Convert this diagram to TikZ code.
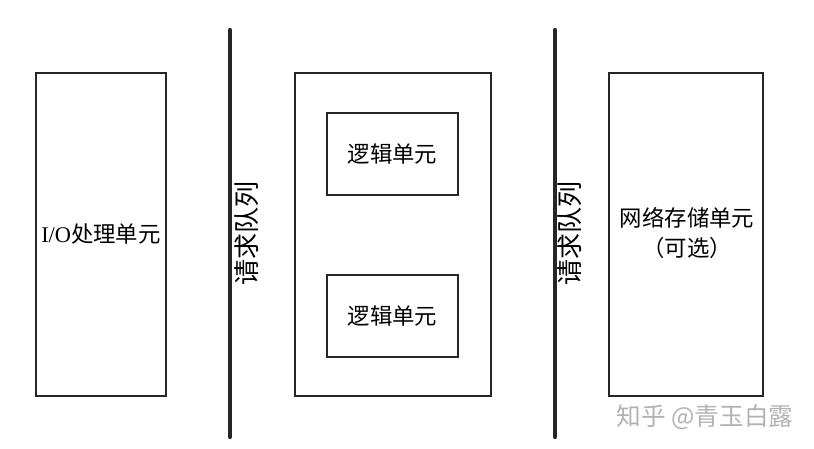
\documentclass[tikz,border=0pt]{standalone}
\usepackage{fontspec}
\setmainfont{Liberation Serif}
\newfontfamily\cjk{Noto Sans CJK SC}
\begin{document}
\begin{tikzpicture}[x=0.75pt,y=-0.75pt,
  unitbox/.style={draw=black!85, line width=1pt, inner sep=0pt, align=center},
  queueline/.style={line width=3.2pt, draw=black!85, line cap=round},
  qlabel/.style={rotate=90, font=\cjk\fontsize{19.5}{22}\selectfont, inner sep=0pt},
  boxtext/.style={font=\fontsize{16.8}{22}\selectfont}]
\useasboundingbox (0,0) rectangle (814,449);
% boxes
\node[unitbox, boxtext, minimum width=97.5pt, minimum height=242pt] (io) at (101,234.5) {I/O{\cjk 处理单元}};
\node[unitbox, minimum width=147pt, minimum height=242pt] (mid) at (393,234.5) {};
\node[unitbox, boxtext, line width=1.4pt, minimum width=98pt, minimum height=61.5pt] (l1) at (392.5,154) {\cjk 逻辑单元};
\node[unitbox, boxtext, line width=1.4pt, minimum width=98pt, minimum height=61.5pt] (l2) at (392.5,316) {\cjk 逻辑单元};
\node[unitbox, boxtext, minimum width=115.5pt, minimum height=242pt] (net) at (686,234.5) {};
\node[boxtext, align=center, inner sep=0pt] (nettext) at (687,233) {\cjk 网络存储单元\\\cjk （可选）};
% queues
\coordinate (q1a) at (230,30); \coordinate (q1b) at (230,437);
\coordinate (q2a) at (555,30); \coordinate (q2b) at (555,437);
\draw[queueline] (q1a) -- (q1b);
\draw[queueline] (q2a) -- (q2b);
\node[qlabel] (q1) at (247,233) {请求队列};
\node[qlabel] (q2) at (570,233) {请求队列};
% watermark
\node[font=\cjk\fontsize{18.5}{22}\selectfont, text=black!30, inner sep=0pt] (wm) at (705,417) {知乎 @青玉白露};
\end{tikzpicture}
\end{document}
